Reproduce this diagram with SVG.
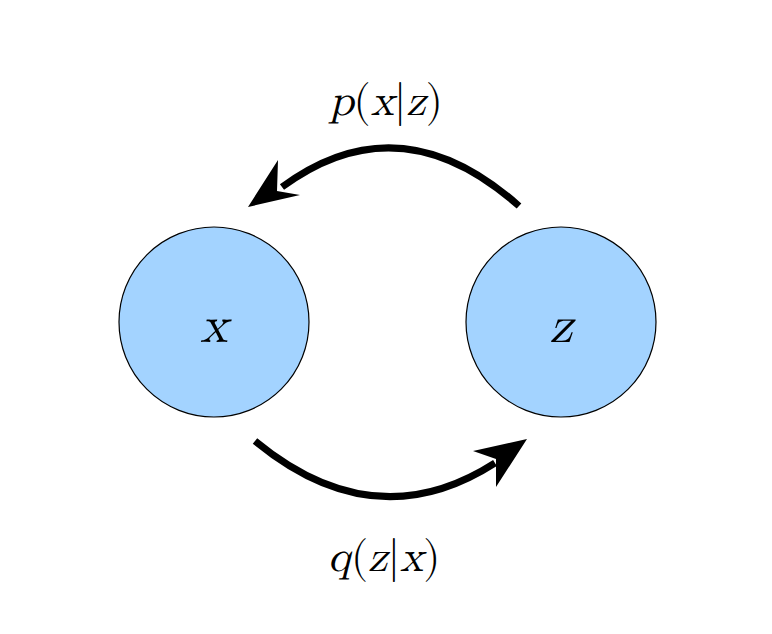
<svg xmlns="http://www.w3.org/2000/svg" width="772" height="634" viewBox="0 0 772 634">
<style>
.n{fill:#a3d3ff;stroke:#000;stroke-width:1.2}
.t{font-family:"Latin Modern Math","DejaVu Serif","Liberation Serif",serif;font-style:italic;text-anchor:middle}
.c{fill:none;stroke:#000;stroke-width:7}
</style>
<rect width="772" height="634" fill="#fff"/>
<g id="x"><circle class="n" cx="214" cy="322" r="95"/><text class="t" x="214" y="342" font-size="52">x</text></g>
<g id="z"><circle class="n" cx="561" cy="322" r="95"/><text class="t" x="561" y="342" font-size="52">z</text></g>
<g id="connectors">
<path class="c" d="M519 206 Q400 100 282 187"/>
<polygon points="248,207 300,195 277,191 278,160"/>
<path class="c" d="M255 441 Q375 540 495 463"/>
<polygon points="527,439 473,451 496,459 496,487"/>
</g>
<text class="t" x="386" y="115" font-size="44" style="font-style:normal"><tspan font-style="italic">p</tspan>(<tspan font-style="italic">x</tspan>|<tspan font-style="italic">z</tspan>)</text>
<text class="t" x="384" y="571" font-size="44" style="font-style:normal"><tspan font-style="italic">q</tspan>(<tspan font-style="italic">z</tspan>|<tspan font-style="italic">x</tspan>)</text>
</svg>
